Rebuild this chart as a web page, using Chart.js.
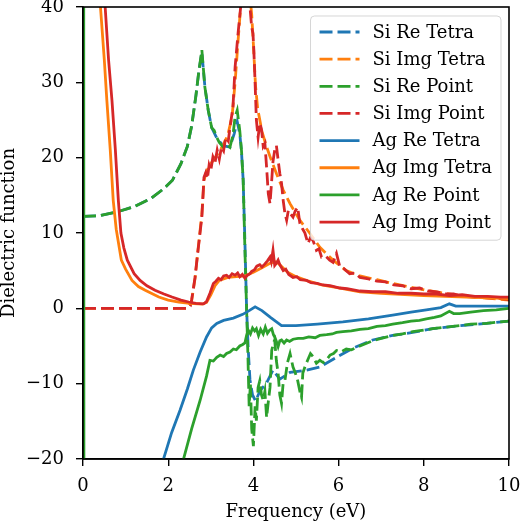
<!DOCTYPE html>
<html>
<head>
<meta charset="utf-8">
<script src="https://cdn.jsdelivr.net/npm/chart.js@4.4.1/dist/chart.umd.min.js"></script>
<style>
  html, body { margin: 0; padding: 0; background: #fff; }
</style>
</head>
<body>
<canvas id="dielectricChart" width="520" height="521"></canvas>
<script>
// Values, [frequency (eV), value]
const siReTetra = [[0,12.2],[0.4,12.3],[0.8,12.8],[1.2,13.5],[1.6,14.6],[1.9,15.9],[2.1,17.0],[2.3,19.2],[2.45,21.5],[2.55,24.2],[2.65,28.2],[2.72,31.5],[2.79,34.0],[2.86,29.5],[2.94,26.3],[3.02,24.0],[3.14,22.6],[3.29,21.6],[3.45,21.4],[3.55,23.2],[3.62,24.8],[3.68,23.2],[3.72,20.8],[3.76,17.0],[3.8,9.0],[3.84,0.0],[3.88,-5.6],[3.92,-9.5],[3.98,-11.5],[4.05,-12.3],[4.16,-10.9],[4.3,-10.0],[4.46,-8.2],[4.62,-9.4],[4.86,-8.5],[5.25,-8.2],[5.56,-7.8],[5.95,-6.5],[6.33,-5.3],[6.8,-4.2],[7.27,-3.6],[7.74,-3.2],[8.21,-2.7],[8.84,-2.3],[9.47,-2.0],[10,-1.7]];

const siImgTetra = [[0,0],[1.0,0],[2.0,0],[2.45,0],[2.55,1.0],[2.63,4.0],[2.7,7.8],[2.79,12.5],[2.84,17.0],[2.9,18.2],[3.0,19.2],[3.1,20.0],[3.2,20.8],[3.3,21.8],[3.4,23.0],[3.5,25.5],[3.57,30.0],[3.64,35.5],[3.7,40.0],[3.76,44.0],[3.82,46.0],[3.9,42.5],[3.96,39.0],[4.0,35.0],[4.05,29.5],[4.1,26.5],[4.2,23.5],[4.3,21.6],[4.4,20.0],[4.54,17.9],[4.7,15.7],[4.86,13.9],[5.09,11.7],[5.32,10.0],[5.56,8.1],[5.87,6.4],[6.18,5.0],[6.5,4.3],[6.9,3.8],[7.27,3.3],[7.7,2.8],[8.06,2.4],[8.5,2.0],[8.84,1.7],[9.4,1.4],[10,1.1]];

const siRePoint = [[0,12.2],[0.4,12.3],[0.8,12.8],[1.2,13.5],[1.6,14.6],[1.9,15.9],[2.1,17.0],[2.3,19.2],[2.45,21.5],[2.55,24.2],[2.65,28.2],[2.72,31.5],[2.79,34.3],[2.86,29.4],[2.94,26.3],[3.02,24.0],[3.08,23.6],[3.14,22.7],[3.2,22.0],[3.29,21.4],[3.37,21.8],[3.45,21.4],[3.52,23.0],[3.57,25.4],[3.62,26.3],[3.68,23.6],[3.72,21.0],[3.76,17.0],[3.8,8.0],[3.84,0.0],[3.87,-6.0],[3.9,-13.0],[3.93,-10.0],[3.96,-16.0],[4.0,-18.3],[4.04,-13.0],[4.07,-14.9],[4.11,-10.5],[4.15,-9.6],[4.19,-11.5],[4.23,-12.2],[4.27,-11.0],[4.31,-14.5],[4.35,-12.4],[4.39,-10.5],[4.43,-5.6],[4.47,-4.6],[4.5,-4.2],[4.54,-7.0],[4.58,-8.6],[4.62,-11.5],[4.66,-12.6],[4.7,-9.8],[4.74,-9.6],[4.8,-7.2],[4.86,-6.0],[4.93,-7.8],[4.98,-8.5],[5.04,-9.6],[5.09,-11.0],[5.13,-11.8],[5.16,-8.6],[5.22,-7.6],[5.28,-6.8],[5.34,-6.0],[5.4,-6.4],[5.48,-7.3],[5.56,-6.9],[5.64,-7.2],[5.71,-6.9],[5.8,-6.2],[5.88,-6.0],[5.95,-5.6],[6.05,-5.8],[6.18,-5.4],[6.3,-5.5],[6.5,-5.0],[6.8,-4.3],[7.0,-4.0],[7.27,-3.6],[7.5,-3.4],[7.74,-3.1],[8.0,-2.9],[8.21,-2.7],[8.5,-2.5],[8.84,-2.3],[9.1,-2.1],[9.47,-2.0],[9.8,-1.8],[10,-1.7]];

const siImgPoint = [[0,0],[1.0,0],[2.0,0],[2.45,0],[2.52,0.3],[2.55,1.1],[2.63,4.1],[2.7,7.7],[2.79,12.1],[2.84,17.4],[2.88,18.0],[2.92,17.2],[2.96,19.0],[3.0,18.3],[3.05,20.1],[3.1,19.4],[3.15,21.0],[3.2,19.8],[3.25,21.4],[3.3,20.9],[3.35,22.7],[3.41,22.2],[3.45,24.0],[3.52,26.7],[3.57,32.0],[3.64,36.5],[3.71,40.5],[3.76,44.0],[3.82,45.0],[3.88,42.0],[3.92,40.0],[3.96,37.3],[3.99,36.5],[4.01,34.3],[4.04,29.9],[4.07,25.0],[4.11,22.7],[4.15,24.6],[4.19,23.8],[4.23,21.5],[4.27,21.9],[4.31,18.7],[4.35,15.2],[4.39,13.9],[4.43,17.0],[4.46,19.5],[4.5,21.0],[4.54,21.6],[4.58,19.7],[4.62,17.9],[4.66,16.6],[4.7,14.3],[4.74,12.6],[4.78,11.7],[4.82,13.0],[4.86,12.6],[4.93,12.1],[4.98,12.9],[5.04,13.4],[5.09,11.3],[5.15,10.6],[5.21,10.0],[5.28,8.6],[5.34,9.4],[5.4,9.0],[5.48,7.7],[5.54,7.9],[5.6,6.8],[5.7,6.9],[5.79,6.4],[5.87,6.1],[5.95,7.3],[6.03,5.5],[6.12,5.3],[6.26,4.6],[6.38,4.7],[6.5,4.1],[6.7,3.9],[6.9,3.6],[7.1,3.5],[7.3,3.1],[7.5,3.0],[7.7,2.6],[7.9,2.7],[8.1,2.3],[8.3,2.2],[8.5,1.9],[8.7,1.9],[8.9,1.6],[9.2,1.5],[9.5,1.4],[9.8,1.3],[10,1.2]];

const agReTetra = [[1.2,-55],[1.5,-32],[1.89,-20],[2.08,-16.5],[2.28,-13.5],[2.45,-10.7],[2.59,-8.2],[2.75,-5.8],[2.9,-3.8],[3.02,-2.6],[3.14,-2.0],[3.3,-1.6],[3.53,-1.3],[3.75,-0.8],[3.9,-0.3],[4.04,0.2],[4.2,-0.3],[4.4,-1.2],[4.66,-2.3],[5.0,-2.3],[5.5,-2.1],[6.1,-1.8],[6.7,-1.4],[7.27,-0.9],[7.7,-0.5],[8.06,-0.2],[8.4,0.1],[8.6,0.6],[8.75,0.3],[9.0,0.3],[10,0.3]];

const agImgTetra = [[0.35,52],[0.41,40],[0.5,33],[0.56,27.6],[0.64,21],[0.71,14.3],[0.78,10.5],[0.9,6.4],[1.0,5.2],[1.15,3.7],[1.3,2.9],[1.46,2.4],[1.78,1.5],[2.0,1.1],[2.25,0.84],[2.5,0.65],[2.8,0.55],[2.9,0.8],[3.0,1.8],[3.1,3.0],[3.2,3.7],[3.4,4.1],[3.6,4.2],[3.8,4.3],[4.0,4.8],[4.2,5.4],[4.4,6.0],[4.5,6.2],[4.6,5.9],[4.8,4.8],[5.0,4.2],[5.3,3.6],[5.6,3.1],[6.0,2.7],[6.5,2.2],[7.0,2.0],[8.0,1.7],[9.0,1.5],[10,1.3]];

const agRePoint = [[0.01,150],[0.03,-150],[1.3,-60],[2.0,-30],[2.36,-20],[2.55,-16],[2.75,-12.2],[2.9,-9.0],[2.98,-6.9],[3.06,-7.0],[3.14,-6.5],[3.22,-6.2],[3.3,-6.4],[3.37,-6.0],[3.45,-5.8],[3.53,-5.4],[3.6,-5.5],[3.68,-5.0],[3.75,-4.8],[3.8,-4.6],[3.84,-3.6],[3.88,-2.9],[3.93,-3.4],[3.98,-2.6],[4.03,-3.0],[4.07,-2.7],[4.12,-3.6],[4.17,-2.8],[4.23,-3.4],[4.28,-2.5],[4.33,-3.3],[4.38,-2.9],[4.43,-2.7],[4.47,-3.5],[4.5,-3.8],[4.54,-4.4],[4.58,-5.1],[4.62,-4.3],[4.66,-4.2],[4.72,-4.6],[4.78,-4.2],[4.85,-4.4],[4.93,-4.1],[5.05,-4.0],[5.17,-4.0],[5.3,-3.8],[5.45,-3.9],[5.56,-3.6],[5.72,-3.5],[5.85,-3.4],[5.95,-3.2],[6.1,-3.1],[6.3,-3.0],[6.5,-2.8],[6.7,-2.7],[6.9,-2.4],[7.1,-2.3],[7.27,-2.1],[7.5,-1.9],[7.7,-1.7],[7.9,-1.6],[8.06,-1.4],[8.25,-1.2],[8.4,-1.0],[8.6,-0.4],[8.7,-0.7],[8.84,-0.7],[9.1,-0.5],[9.4,-0.3],[9.7,-0.2],[10,0.0]];

const agImgPoint = [[0.47,47],[0.52,40],[0.6,33],[0.68,27.6],[0.76,21],[0.83,14.3],[0.89,10],[0.96,8],[1.04,6.4],[1.2,4.6],[1.34,3.7],[1.5,3.0],[1.69,2.4],[1.9,1.9],[2.09,1.5],[2.3,1.1],[2.48,0.84],[2.65,0.65],[2.83,0.6],[2.9,0.9],[2.98,2.0],[3.06,3.3],[3.12,3.6],[3.18,4.0],[3.24,3.8],[3.3,4.3],[3.37,4.4],[3.43,4.1],[3.5,4.6],[3.57,4.4],[3.63,4.7],[3.68,4.2],[3.74,4.5],[3.8,4.0],[3.86,4.4],[3.92,4.6],[3.96,4.9],[4.02,5.1],[4.08,5.6],[4.15,5.8],[4.2,5.5],[4.27,5.9],[4.33,6.3],[4.39,6.8],[4.42,6.2],[4.46,7.7],[4.5,5.7],[4.54,6.0],[4.58,6.4],[4.62,5.8],[4.7,5.0],[4.76,5.2],[4.83,4.5],[4.93,4.1],[5.02,4.2],[5.1,3.8],[5.25,3.7],[5.35,3.4],[5.5,3.3],[5.63,3.1],[5.8,3.0],[6.03,2.7],[6.2,2.6],[6.5,2.3],[6.8,2.2],[7.1,2.2],[7.4,2.0],[7.7,2.0],[8.0,1.9],[8.3,1.9],[8.6,1.7],[8.9,1.8],[9.2,1.6],[9.5,1.6],[9.8,1.5],[10,1.5]];

const xTicks = [0, 2, 4, 6, 8, 10];
const yTicks = [-20, -10, 0, 10, 20, 30, 40];

const FONT = 'DejaVu Serif';
const DASH = [13, 5];

function makeSet(label, pts, color, dashed, order) {
    return {
        label: label,
        data: pts.map(p => ({x: p[0], y: p[1]})),
        borderColor: color,
        backgroundColor: color,
        borderWidth: 2.8,
        borderDash: dashed ? DASH : [],
        pointRadius: 0,
        tension: 0,
        fill: false,
        clip: 0,
        order: order
    };
}

// legend drawn inside the axes, upper right, like matplotlib
const insideLegend = {
    id: 'insideLegend',
    afterDraw(chart) {
        const ctx = chart.ctx;
        const area = chart.chartArea;
        const sets = chart.data.datasets;
        ctx.save();
        ctx.font = '18px "' + FONT + '"';
        let maxW = 0;
        sets.forEach(ds => { maxW = Math.max(maxW, ctx.measureText(ds.label).width); });
        const rowH = 27.15;
        const w = 62 + maxW + 9;
        const h = rowH * sets.length + 7;
        const x0 = area.right - 8 - w;
        const y0 = area.top + 9;
        const r = 4;

        ctx.beginPath();
        ctx.moveTo(x0 + r, y0);
        ctx.lineTo(x0 + w - r, y0);
        ctx.arcTo(x0 + w, y0, x0 + w, y0 + r, r);
        ctx.lineTo(x0 + w, y0 + h - r);
        ctx.arcTo(x0 + w, y0 + h, x0 + w - r, y0 + h, r);
        ctx.lineTo(x0 + r, y0 + h);
        ctx.arcTo(x0, y0 + h, x0, y0 + h - r, r);
        ctx.lineTo(x0, y0 + r);
        ctx.arcTo(x0, y0, x0 + r, y0, r);
        ctx.closePath();
        ctx.fillStyle = 'rgba(255,255,255,0.8)';
        ctx.fill();
        ctx.strokeStyle = 'rgba(204,204,204,0.8)';
        ctx.lineWidth = 1;
        ctx.stroke();

        sets.forEach((ds, i) => {
            const cy = y0 + 16 + i * rowH;
            ctx.beginPath();
            ctx.setLineDash(ds.borderDash);
            ctx.strokeStyle = ds.borderColor;
            ctx.lineWidth = ds.borderWidth;
            ctx.moveTo(x0 + 9, cy);
            ctx.lineTo(x0 + 49, cy);
            ctx.stroke();
            ctx.setLineDash([]);
            ctx.fillStyle = '#000';
            ctx.textBaseline = 'middle';
            ctx.textAlign = 'left';
            ctx.fillText(ds.label, x0 + 62, cy + 1);
        });
        ctx.restore();
    }
};

// top and right spines
const boxFrame = {
    id: 'boxFrame',
    afterDatasetsDraw(chart) {
        const ctx = chart.ctx;
        const a = chart.chartArea;
        ctx.save();
        ctx.strokeStyle = '#000';
        ctx.lineWidth = 1.6;
        ctx.strokeRect(a.left, a.top, a.right - a.left, a.bottom - a.top);
        ctx.restore();
    }
};

const tickFont = {family: FONT, size: 18};

new Chart(document.getElementById('dielectricChart').getContext('2d'), {
    type: 'line',
    data: {
        datasets: [
            makeSet('Si Re Tetra', siReTetra, '#1f77b4', true, 8),
            makeSet('Si Img Tetra', siImgTetra, '#ff7f0e', true, 7),
            makeSet('Si Re Point', siRePoint, '#2ca02c', true, 6),
            makeSet('Si Img Point', siImgPoint, '#d62728', true, 5),
            makeSet('Ag Re Tetra', agReTetra, '#1f77b4', false, 4),
            makeSet('Ag Img Tetra', agImgTetra, '#ff7f0e', false, 3),
            makeSet('Ag Re Point', agRePoint, '#2ca02c', false, 2),
            makeSet('Ag Img Point', agImgPoint, '#d62728', false, 1)
        ]
    },
    options: {
        responsive: false,
        animation: false,
        layout: {padding: {top: 7, right: 11, left: 0, bottom: 0}},
        plugins: {
            legend: {display: false},
            tooltip: {enabled: false}
        },
        scales: {
            x: {
                type: 'linear',
                min: 0,
                max: 10,
                afterBuildTicks: s => { s.ticks = xTicks.map(v => ({value: v})); },
                afterFit: s => { s.height = 62; s.paddingLeft = 0; s.paddingRight = 0; },
                ticks: {font: tickFont, color: '#000', padding: 10, maxRotation: 0},
                grid: {drawOnChartArea: false, drawTicks: true, tickLength: 7, color: '#000', lineWidth: 1.4},
                border: {display: true, color: '#000', width: 1.6},
                title: {display: true, text: 'Frequency (eV)', font: {family: FONT, size: 18, lineHeight: 1.2}, color: '#000', padding: {top: 0, bottom: -2}}
            },
            y: {
                type: 'linear',
                min: -20,
                max: 40,
                afterBuildTicks: s => { s.ticks = yTicks.map(v => ({value: v})); },
                afterFit: s => { s.width = 83; s.paddingTop = 0; s.paddingBottom = 0; },
                ticks: {
                    font: tickFont,
                    color: '#000',
                    padding: 12,
                    callback: v => (v < 0 ? '\u2212' + Math.abs(v) : String(v))
                },
                grid: {drawOnChartArea: false, drawTicks: true, tickLength: 7, color: '#000', lineWidth: 1.4},
                border: {display: true, color: '#000', width: 1.6},
                title: {display: true, text: 'Dielectric function', font: {family: FONT, size: 18, lineHeight: 1}, color: '#000', padding: {top: 0, bottom: 0}}
            }
        }
    },
    plugins: [boxFrame, insideLegend]
});
</script>
</body>
</html>
